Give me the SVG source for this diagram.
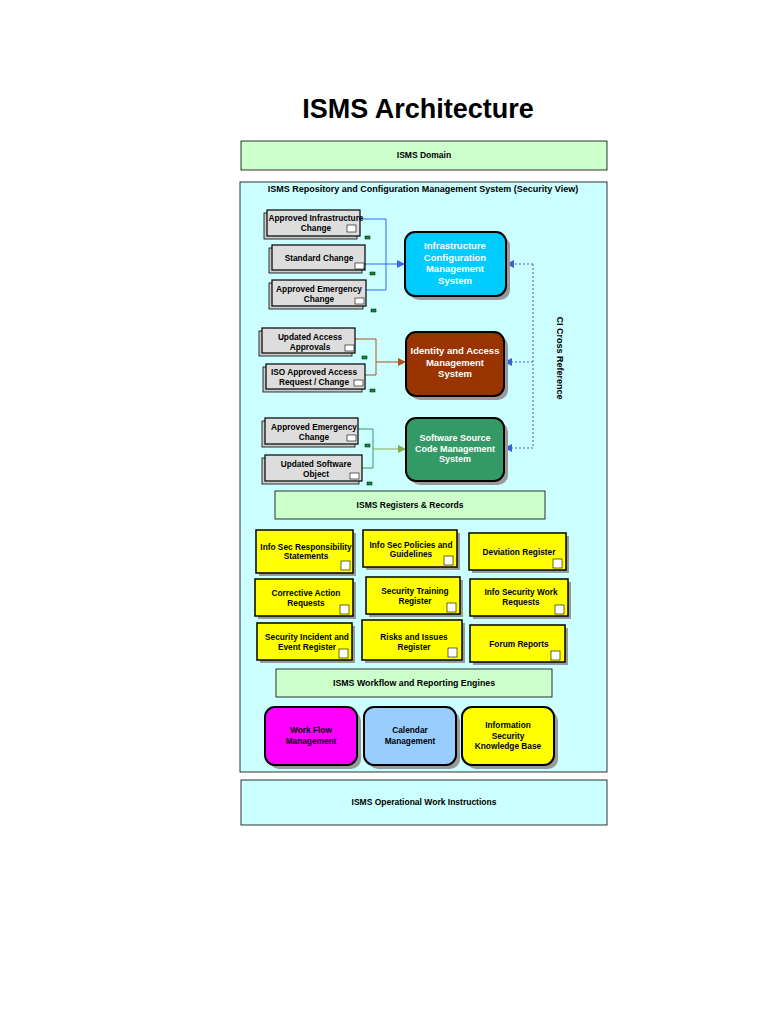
<svg xmlns="http://www.w3.org/2000/svg" width="768" height="1024" viewBox="0 0 768 1024">
<style>
text{font-family:"Liberation Sans",Arial,sans-serif;font-weight:bold;text-anchor:middle}
.t{font-size:8.3px;fill:#000}
.w{font-size:9.5px;fill:#fff}
.band{fill:#ccffcc;stroke:#000;stroke-width:0.8}
.doc{fill:#dddddd;stroke:#000;stroke-width:1.2}
.docb{fill:#cccccc;stroke:#000;stroke-width:0.8}
.reg{fill:#ffff00;stroke:#000;stroke-width:1.5}
.sh{fill:#999}
.sys{stroke:#000;stroke-width:2}
.dot{fill:#009933;stroke:#000;stroke-width:0.5}
.ic{fill:#fff;stroke:#000;stroke-width:0.6}
</style>
<defs>
<marker id="ab" markerWidth="8" markerHeight="8" refX="7" refY="4" orient="auto" markerUnits="userSpaceOnUse"><path d="M0,0 L8,4 L0,8 z" fill="#3366ff"/></marker>
<marker id="ao" markerWidth="8" markerHeight="8" refX="7" refY="4" orient="auto" markerUnits="userSpaceOnUse"><path d="M0,0 L8,4 L0,8 z" fill="#b05020"/></marker>
<marker id="ag" markerWidth="8" markerHeight="8" refX="7" refY="4" orient="auto" markerUnits="userSpaceOnUse"><path d="M0,0 L8,4 L0,8 z" fill="#88aa44"/></marker>
<marker id="ad" markerWidth="8" markerHeight="8" refX="7" refY="4" orient="auto" markerUnits="userSpaceOnUse"><path d="M0,0 L8,4 L0,8 z" fill="#3366cc"/></marker>
</defs>
<text x="418" y="118" style="font-size:27px">ISMS Architecture</text>
<g id="domain"><rect class="band" x="241" y="141" width="366" height="29"/><text class="t" x="424" y="158" style="font-size:8.5px">ISMS Domain</text></g>
<g id="repo"><rect x="240" y="182" width="367" height="590" fill="#ccffff" stroke="#000" stroke-width="0.8"/><text class="t" x="423" y="192" style="font-size:9px">ISMS Repository and Configuration Management System (Security View)</text></g>
<g id="opwi"><rect x="241" y="780" width="366" height="45" fill="#ccffff" stroke="#000" stroke-width="0.8"/><text class="t" x="424" y="805" style="font-size:8.5px">ISMS Operational Work Instructions</text></g>

<g id="connectors" fill="none">
<path d="M360,219 H386 V290 H366" stroke="#3366ff" stroke-width="1"/>
<path d="M365,264 H404" stroke="#3366ff" stroke-width="1" marker-end="url(#ab)"/>
<path d="M355,339 H376 V375 H365" stroke="#b05020" stroke-width="1"/>
<path d="M376,362 H405" stroke="#b05020" stroke-width="1" marker-end="url(#ao)"/>
<path d="M358,429 H373 V468 H362" stroke="#339966" stroke-width="1"/>
<path d="M373,449 H405" stroke="#88aa44" stroke-width="1" marker-end="url(#ag)"/>
<path d="M533,264 V448" stroke="#3366cc" stroke-width="1" stroke-dasharray="2,2"/>
<path d="M533,264 H507" stroke="#3366cc" stroke-width="1" stroke-dasharray="2,2" marker-end="url(#ad)"/>
<path d="M533,362 H505" stroke="#3366cc" stroke-width="1" stroke-dasharray="2,2" marker-end="url(#ad)"/>
<path d="M533,448 H505" stroke="#3366cc" stroke-width="1" stroke-dasharray="2,2" marker-end="url(#ad)"/>
</g>
<text class="t" transform="translate(557,358) rotate(90)" style="font-size:9px">CI Cross Reference</text>

<g id="d1"><rect class="docb" x="264" y="213" width="93" height="26"/><rect class="doc" x="267" y="210" width="93" height="26"/><rect class="ic" x="347" y="225" width="9" height="7"/><rect class="dot" x="365" y="236" width="5" height="3"/><text class="t" x="316" y="221">Approved Infrastructure</text><text class="t" x="316" y="231">Change</text></g>
<g id="d2"><rect class="docb" x="269" y="248" width="93" height="25"/><rect class="doc" x="272" y="245" width="93" height="25"/><rect class="ic" x="355" y="263" width="9" height="6"/><rect class="dot" x="370" y="272" width="5" height="3"/><text class="t" x="319" y="261">Standard  Change</text></g>
<g id="d3"><rect class="docb" x="269" y="283" width="94" height="26"/><rect class="doc" x="272" y="280" width="94" height="26"/><rect class="ic" x="355" y="298" width="9" height="6"/><rect class="dot" x="371" y="309" width="5" height="3"/><text class="t" x="319" y="292">Approved Emergency</text><text class="t" x="319" y="302">Change</text></g>
<g id="d4"><rect class="docb" x="259" y="331" width="93" height="25"/><rect class="doc" x="262" y="328" width="93" height="25"/><rect class="ic" x="345" y="345" width="9" height="6"/><rect class="dot" x="362" y="356" width="5" height="3"/><text class="t" x="310" y="340">Updated Access</text><text class="t" x="310" y="350">Approvals</text></g>
<g id="d5"><rect class="docb" x="263" y="367" width="99" height="25"/><rect class="doc" x="266" y="364" width="99" height="25"/><rect class="ic" x="354" y="380" width="9" height="6"/><rect class="dot" x="370" y="389" width="5" height="3"/><text class="t" x="314" y="375">ISO Approved Access</text><text class="t" x="314" y="385">Request / Change</text></g>
<g id="d6"><rect class="docb" x="262" y="421" width="93" height="26"/><rect class="doc" x="265" y="418" width="93" height="26"/><rect class="ic" x="347" y="435" width="9" height="6"/><rect class="dot" x="365" y="444" width="5" height="3"/><text class="t" x="314" y="430">Approved Emergency</text><text class="t" x="314" y="440">Change</text></g>
<g id="d7"><rect class="docb" x="262" y="458" width="97" height="26"/><rect class="doc" x="265" y="455" width="97" height="26"/><rect class="ic" x="350" y="473" width="9" height="6"/><rect class="dot" x="367" y="482" width="5" height="3"/><text class="t" x="316" y="467">Updated Software</text><text class="t" x="316" y="477">Object</text></g>

<g id="icms"><rect x="409" y="236" width="101" height="64" rx="10" class="sh"/><rect class="sys" x="405" y="232" width="101" height="64" rx="10" fill="#00ccff"/><text class="w" x="455" y="249">Infrastructure</text><text class="w" x="455" y="261">Configuration</text><text class="w" x="455" y="272">Management</text><text class="w" x="455" y="284">System</text></g>
<g id="iams"><rect x="410" y="336" width="98" height="64" rx="10" class="sh"/><rect class="sys" x="406" y="332" width="98" height="64" rx="10" fill="#993300"/><text class="w" x="455" y="354">Identity and Access</text><text class="w" x="455" y="366">Management</text><text class="w" x="455" y="377">System</text></g>
<g id="sscm"><rect x="410" y="422" width="98" height="63" rx="10" class="sh"/><rect class="sys" x="406" y="418" width="98" height="63" rx="10" fill="#339966"/><text class="w" x="455" y="441" style="font-size:9px">Software Source</text><text class="w" x="455" y="452" style="font-size:9px">Code Management</text><text class="w" x="455" y="462" style="font-size:9px">System</text></g>

<g id="registers"><rect class="band" x="275" y="491" width="270" height="28"/><text class="t" x="410" y="508" style="font-size:8.5px">ISMS Registers &amp; Records</text></g>

<g id="r1"><rect class="sh" x="259" y="533" width="97" height="43"/><rect class="reg" x="256" y="530" width="97" height="43"/><rect class="ic" x="341" y="561" width="9" height="9"/><text class="t" x="306" y="550">Info Sec Responsibility</text><text class="t" x="306" y="559">Statements</text></g>
<g id="r2"><rect class="sh" x="366" y="533" width="94" height="37"/><rect class="reg" x="363" y="530" width="94" height="37"/><rect class="ic" x="444" y="556" width="9" height="9"/><text class="t" x="411" y="548">Info Sec Policies and</text><text class="t" x="411" y="557">Guidelines</text></g>
<g id="r3"><rect class="sh" x="472" y="536" width="97" height="37"/><rect class="reg" x="469" y="533" width="97" height="37"/><rect class="ic" x="553" y="559" width="9" height="9"/><text class="t" x="519" y="555">Deviation Register</text></g>
<g id="r4"><rect class="sh" x="258" y="582" width="98" height="37"/><rect class="reg" x="255" y="579" width="98" height="37"/><rect class="ic" x="340" y="605" width="9" height="9"/><text class="t" x="306" y="596">Corrective Action</text><text class="t" x="306" y="606">Requests</text></g>
<g id="r5"><rect class="sh" x="369" y="580" width="94" height="37"/><rect class="reg" x="366" y="577" width="94" height="37"/><rect class="ic" x="447" y="603" width="9" height="9"/><text class="t" x="415" y="594">Security Training</text><text class="t" x="415" y="604">Register</text></g>
<g id="r6"><rect class="sh" x="473" y="582" width="98" height="37"/><rect class="reg" x="470" y="579" width="98" height="37"/><rect class="ic" x="555" y="605" width="9" height="9"/><text class="t" x="521" y="595">Info Security Work</text><text class="t" x="521" y="605">Requests</text></g>
<g id="r7"><rect class="sh" x="260" y="626" width="95" height="37"/><rect class="reg" x="257" y="623" width="95" height="37"/><rect class="ic" x="339" y="649" width="9" height="9"/><text class="t" x="307" y="640">Security Incident and</text><text class="t" x="307" y="650">Event Register</text></g>
<g id="r8"><rect class="sh" x="365" y="623" width="100" height="40"/><rect class="reg" x="362" y="620" width="100" height="40"/><rect class="ic" x="448" y="648" width="9" height="9"/><text class="t" x="414" y="640">Risks and Issues</text><text class="t" x="414" y="650">Register</text></g>
<g id="r9"><rect class="sh" x="473" y="628" width="95" height="37"/><rect class="reg" x="470" y="625" width="95" height="37"/><rect class="ic" x="551" y="651" width="9" height="9"/><text class="t" x="519" y="647">Forum Reports</text></g>

<g id="engines"><rect class="band" x="276" y="669" width="276" height="28"/><text class="t" x="414" y="686" style="font-size:8.8px">ISMS Workflow and Reporting Engines</text></g>

<g id="wf"><rect class="sh" x="269" y="711" width="92" height="58" rx="10"/><rect class="sys" x="265" y="707" width="92" height="58" rx="10" fill="#ff00ff"/><text class="t" x="311" y="733">Work Flow</text><text class="t" x="311" y="744">Management</text></g>
<g id="cal"><rect class="sh" x="368" y="711" width="92" height="58" rx="10"/><rect class="sys" x="364" y="707" width="92" height="58" rx="10" fill="#99ccff"/><text class="t" x="410" y="733">Calendar</text><text class="t" x="410" y="744">Management</text></g>
<g id="isk"><rect class="sh" x="466" y="711" width="92" height="58" rx="10"/><rect class="sys" x="462" y="707" width="92" height="58" rx="10" fill="#ffff00"/><text class="t" x="508" y="728">Information</text><text class="t" x="508" y="739">Security</text><text class="t" x="508" y="749">Knowledge Base</text></g>
</svg>
